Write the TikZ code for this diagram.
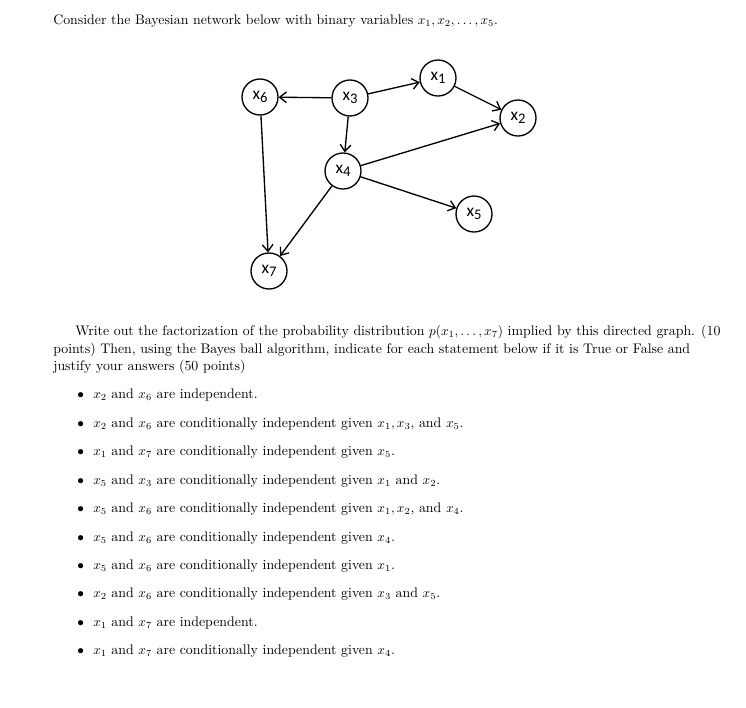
\documentclass[tikz,border=0pt]{standalone}
\usepackage{fontspec}
\usetikzlibrary{arrows.meta}
\newfontfamily\carlitofont{Carlito}
\newcommand{\sbx}[1]{\raisebox{-0.35ex}{\fontsize{11}{11}\selectfont #1}}
\begin{document}
\begin{tikzpicture}[x=0.75pt,y=-0.75pt,
  var/.style={circle,draw,line width=1pt,minimum size=27pt,inner sep=0pt,font=\carlitofont\fontsize{13}{13}\selectfont},
  edge/.style={->,line width=1pt,>={Straight Barb[length=5pt,width=8pt]}},
  txt/.style={anchor=base west,inner sep=0pt,font=\fontsize{10.4}{12}\selectfont}]
\useasboundingbox (0,0) rectangle (746,707);
\node[txt] (t0) at (53,24) {Consider the Bayesian network below with binary variables $x_1,x_2,\ldots,x_5$.};
\node[var] (x6) at (260,97) {x\sbx{6}};
\node[var] (x3) at (350,98) {x\sbx{3}};
\node[var] (x1) at (438,78) {x\sbx{1}};
\node[var] (x2) at (518,118) {x\sbx{2}};
\node[var] (x4) at (343,171) {x\sbx{4}};
\node[var] (x5) at (474,214) {x\sbx{5}};
\node[var] (x7) at (269,271) {x\sbx{7}};
\draw[edge] (x3)--(x6);
\draw[edge] (x3)--(x1);
\draw[edge] (x1)--(x2);
\draw[edge] (x3)--(x4);
\draw[edge] (x4)--(x2);
\draw[edge] (x4)--(x5);
\draw[edge] (x4)--(x7);
\draw[edge] (x6)--(x7);
\node[txt] (p1) at (75,335) {Write out the factorization of the probability distribution $p(x_1,\ldots,x_7)$ implied by this directed graph. (10};
\node[txt] (p2) at (53,353) {points) Then, using the Bayes ball algorithm, indicate for each statement below if it is True or False and};
\node[txt] (p3) at (53,370) {justify your answers (50 points)};
\foreach \y/\t [count=\i] in {398/{$x_2$ and $x_6$ are independent.},
 427/{$x_2$ and $x_6$ are conditionally independent given $x_1,x_3$, and $x_5$.},
 455/{$x_1$ and $x_7$ are conditionally independent given $x_5$.},
 484/{$x_5$ and $x_3$ are conditionally independent given $x_1$ and $x_2$.},
 512/{$x_5$ and $x_6$ are conditionally independent given $x_1,x_2$, and $x_4$.},
 541/{$x_5$ and $x_6$ are conditionally independent given $x_4$.},
 569/{$x_5$ and $x_6$ are conditionally independent given $x_1$.},
 597/{$x_2$ and $x_6$ are conditionally independent given $x_3$ and $x_5$.},
 626/{$x_1$ and $x_7$ are independent.},
 654/{$x_1$ and $x_7$ are conditionally independent given $x_4$.}}
 {\node[txt] (b\i) at (77,\y) {$\bullet$};
  \node[txt] (s\i) at (93,\y) {\t};}
\end{tikzpicture}
\end{document}
